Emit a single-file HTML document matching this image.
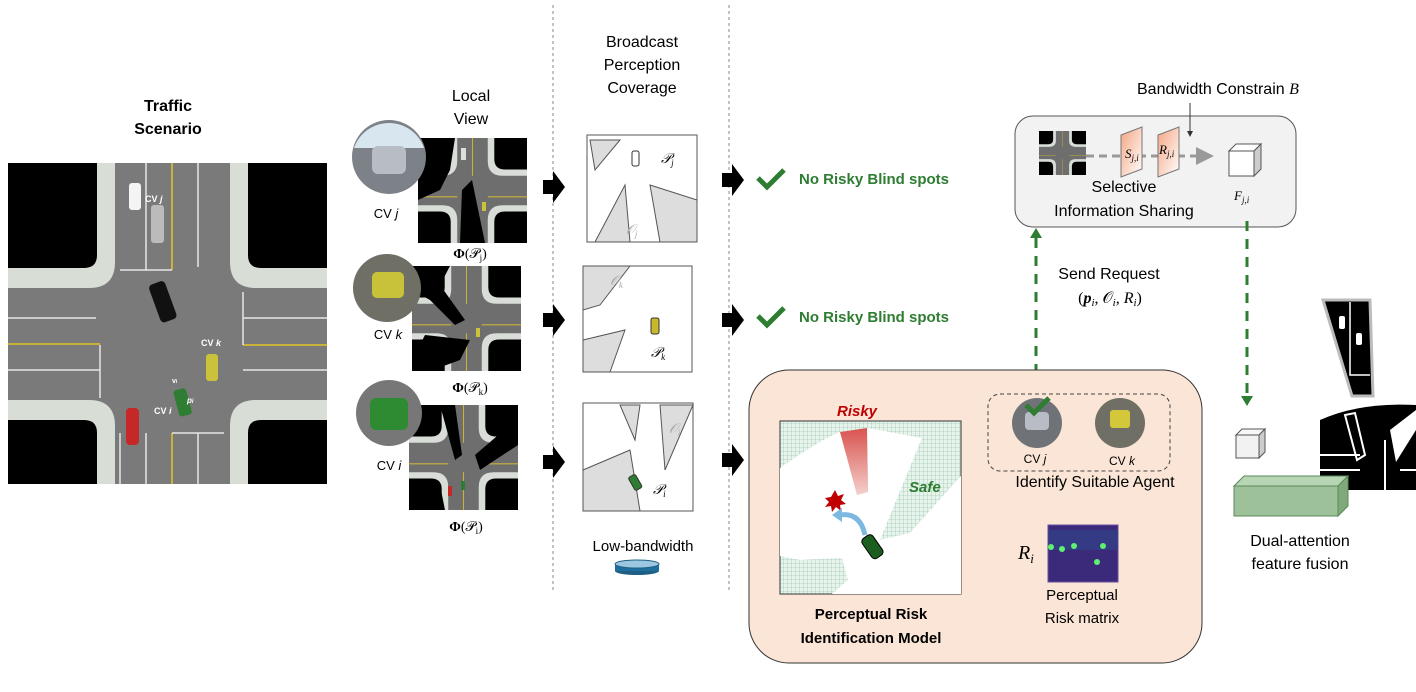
<!DOCTYPE html>
<html><head><meta charset="utf-8"><style>
body{margin:0;background:#fff;}
svg{display:block;font-family:"Liberation Sans",sans-serif;}
</style></head><body>
<svg width="1416" height="692" viewBox="0 0 1416 692" xmlns="http://www.w3.org/2000/svg">
<defs>
<pattern id="grid" width="4" height="4" patternUnits="userSpaceOnUse"><rect width="4" height="4" fill="#e6f4ec"/><path d="M4 0V4M0 4H4" stroke="#8fb8a0" stroke-width="0.6"/></pattern>
<linearGradient id="red" x1="0" y1="0" x2="0" y2="1"><stop offset="0" stop-color="#d9534f"/><stop offset="1" stop-color="#f4d0cc"/></linearGradient>
<linearGradient id="org" x1="0" y1="0" x2="1" y2="1"><stop offset="0" stop-color="#f4a582"/><stop offset="1" stop-color="#fff"/></linearGradient>
<marker id="agr" markerWidth="6" markerHeight="6" refX="3" refY="3" orient="auto"><path d="M0,0L6,3L0,6z" fill="#999"/></marker>
<g id="mini">
<rect width="100" height="100" fill="#6e6e6e"/>
<g fill="#d8ddd8">
<path d="M0 0H36V22Q36 36 22 36H0Z"/><path d="M100 0H64V22Q64 36 78 36H100Z"/>
<path d="M0 100H36V78Q36 64 22 64H0Z"/><path d="M100 100H64V78Q64 64 78 64H100Z"/>
</g>
<g fill="#000">
<path d="M0 0H30V20Q30 30 20 30H0Z"/><path d="M100 0H70V20Q70 30 80 30H100Z"/>
<path d="M0 100H30V80Q30 70 20 70H0Z"/><path d="M100 100H70V80Q70 70 80 70H100Z"/>
</g>
<g stroke="#c9b23a" stroke-width="1"><line x1="50" y1="0" x2="50" y2="36"/><line x1="50" y1="64" x2="50" y2="100"/><line x1="0" y1="56" x2="36" y2="56"/><line x1="64" y1="56" x2="100" y2="56"/></g>
</g>
</defs>

<!-- Traffic scenario -->
<text x="168" y="111" font-size="16" font-weight="bold" text-anchor="middle">Traffic</text>
<text x="168" y="134" font-size="16" font-weight="bold" text-anchor="middle">Scenario</text>
<rect x="8" y="163" width="319" height="321" fill="#7a7a7a"/>
<g fill="#d8ddd6">
<path d="M8 163H115V262Q115 288 89 288H8Z"/>
<path d="M327 163H230V262Q230 288 256 288H327Z"/>
<path d="M8 484H115V426Q115 400 89 400H8Z"/>
<path d="M327 484H230V426Q230 400 256 400H327Z"/>
</g>
<g fill="#000">
<path d="M8 163H97V255Q97 268 84 268H8Z"/>
<path d="M327 163H248V255Q248 268 261 268H327Z"/>
<path d="M8 484H97V433Q97 420 84 420H8Z"/>
<path d="M327 484H248V433Q248 420 261 420H327Z"/>
</g>
<g stroke="#c9b23a" stroke-width="2"><line x1="172" y1="163" x2="172" y2="270"/><line x1="172" y1="433" x2="172" y2="484"/><line x1="8" y1="344" x2="100" y2="344"/><line x1="243" y1="345" x2="327" y2="345"/></g>
<g stroke="#e6e6e6" stroke-width="1.5"><line x1="146" y1="163" x2="146" y2="270"/><line x1="198" y1="163" x2="198" y2="267"/><line x1="120" y1="270" x2="172" y2="270"/><line x1="8" y1="318" x2="96" y2="318"/><line x1="8" y1="370" x2="100" y2="370"/><line x1="100" y1="345" x2="100" y2="398"/><line x1="243" y1="292" x2="243" y2="345"/><line x1="243" y1="318" x2="327" y2="318"/><line x1="243" y1="370" x2="327" y2="370"/><line x1="172" y1="433" x2="224" y2="433"/><line x1="198" y1="433" x2="198" y2="484"/><line x1="146" y1="433" x2="146" y2="484"/><line x1="120" y1="433" x2="120" y2="484"/></g>
<rect x="129" y="183" width="12" height="27" rx="3" fill="#f4f4f4"/>
<rect x="151" y="205" width="13" height="38" rx="3" fill="#bbb"/>
<rect x="154" y="282" width="17" height="40" rx="4" fill="#111" transform="rotate(-20 162 301)"/>
<rect x="206" y="354" width="12" height="27" rx="3" fill="#c9c23a"/>
<rect x="176" y="389" width="13" height="27" rx="3" fill="#2e7d32" transform="rotate(-15 182 402)"/>
<rect x="126" y="408" width="13" height="37" rx="4" fill="#c62828"/>
<g fill="#fff" font-size="9" font-weight="bold"><text x="145" y="202">CV <tspan font-style="italic">j</tspan></text><text x="201" y="346">CV <tspan font-style="italic">k</tspan></text><text x="154" y="414">CV <tspan font-style="italic">i</tspan></text><text x="187" y="403" font-size="8" font-style="italic">p<tspan font-size="6">i</tspan></text><text x="172" y="383" font-size="7">v<tspan font-size="5">i</tspan></text></g>

<!-- Local view -->
<text x="471" y="101" font-size="16" text-anchor="middle">Local</text>
<text x="471" y="124" font-size="16" text-anchor="middle">View</text>
<g>
<use href="#mini" transform="translate(418 138) scale(1.09 1.05)"/>
<path d="M418 138H455L450 170L440 190L418 200Z M460 243L462 190L472 180L485 243Z M510 243L527 225V243Z" fill="#000"/>
<rect x="461" y="148" width="5" height="12" fill="#ddd"/><rect x="482" y="202" width="4" height="9" fill="#c9c23a"/>
<circle cx="389" cy="157" r="37" fill="#7d8288"/><path d="M354 148A37 37 0 0 1 424 148Z" fill="#d8e6f0"/><rect x="372" y="146" width="34" height="28" rx="6" fill="#b8bcc4"/>
<text x="386" y="218" font-size="13" text-anchor="middle">CV <tspan font-style="italic">j</tspan></text>
<text x="470" y="258" font-size="14" text-anchor="middle" font-family="Liberation Serif"><tspan font-weight="bold">Φ</tspan>(𝒫<tspan font-size="9" dy="3">j</tspan><tspan dy="-3">)</tspan></text>
</g>
<g>
<use href="#mini" transform="translate(412 266) scale(1.09 1.05)"/>
<path d="M412 266H450L440 285L465 320L455 325L430 300L412 290Z M412 371L412 360L425 335L470 340L460 360L430 371Z" fill="#000"/>
<rect x="476" y="328" width="4" height="9" fill="#c9c23a"/>
<circle cx="387" cy="288" r="34" fill="#6f6f66"/><rect x="372" y="272" width="32" height="26" rx="5" fill="#c8c23a"/>
<text x="388" y="339" font-size="13" text-anchor="middle">CV <tspan font-style="italic">k</tspan></text>
<text x="470" y="392" font-size="14" text-anchor="middle" font-family="Liberation Serif"><tspan font-weight="bold">Φ</tspan>(𝒫<tspan font-size="9" dy="3">k</tspan><tspan dy="-3">)</tspan></text>
</g>
<g>
<use href="#mini" transform="translate(409 405) scale(1.09 1.05)"/>
<path d="M440 405H455L462 455L455 460Z M518 418V445L480 470L475 455Z M409 495L440 485L445 510H409Z" fill="#000"/>
<rect x="448" y="486" width="4" height="10" fill="#c62828"/><rect x="461" y="481" width="4" height="9" fill="#2e7d32"/>
<circle cx="389" cy="413" r="33" fill="#777"/><rect x="370" y="398" width="38" height="32" rx="6" fill="#2e8b32"/>
<text x="389" y="470" font-size="13" text-anchor="middle">CV <tspan font-style="italic">i</tspan></text>
<text x="466" y="531" font-size="14" text-anchor="middle" font-family="Liberation Serif"><tspan font-weight="bold">Φ</tspan>(𝒫<tspan font-size="9" dy="3">i</tspan><tspan dy="-3">)</tspan></text>
</g>

<!-- dashed separators -->
<line x1="553" y1="5" x2="553" y2="592" stroke="#888" stroke-dasharray="3,3"/>
<line x1="729" y1="5" x2="729" y2="592" stroke="#888" stroke-dasharray="3,3"/>

<!-- arrows -->
<g fill="#000">
<path d="M543 180h10v-9l12 16l-12 16v-9h-10z"/>
<path d="M543 313h10v-9l12 16l-12 16v-9h-10z"/>
<path d="M543 455h10v-9l12 16l-12 16v-9h-10z"/>
<path d="M722 173h10v-9l12 16l-12 16v-9h-10z"/>
<path d="M722 313h10v-9l12 16l-12 16v-9h-10z"/>
<path d="M722 453h10v-9l12 16l-12 16v-9h-10z"/>
<path d="M980 548h8v-9l11 14l-11 14v-9h-8z"/>
<path d="M1030 512v-8h-9l14-11l14 11h-9v8z"/>
</g>

<!-- Broadcast coverage -->
<text x="642" y="47" font-size="16" text-anchor="middle">Broadcast</text>
<text x="642" y="70" font-size="16" text-anchor="middle">Perception</text>
<text x="642" y="93" font-size="16" text-anchor="middle">Coverage</text>
<g stroke="#555" stroke-width="1">
<rect x="587" y="135" width="110" height="107" fill="#fff"/>
<path d="M590 140H620L595 170Z M595 242L625 185L630 242Z M660 242L650 185L697 200V242Z" fill="#ddd"/>
<rect x="583" y="266" width="109" height="106" fill="#fff"/>
<path d="M583 266H630L600 305L583 310Z M583 340L625 330L610 372H583Z" fill="#ddd"/>
<rect x="583" y="403" width="110" height="108" fill="#fff"/>
<path d="M583 470L630 450L640 511H583Z M620 405L640 405L635 440Z M660 405L693 405L665 470Z" fill="#ddd"/>
</g>
<rect x="632" y="151" width="7" height="15" rx="2" fill="#fff" stroke="#333"/>
<rect x="651" y="318" width="8" height="16" rx="2" fill="#c9b82a" stroke="#333"/>
<rect x="631" y="475" width="8" height="15" rx="2" fill="#2e7d32" stroke="#333" transform="rotate(-30 635 482)"/>
<g font-family="Liberation Serif" font-style="italic" font-size="14">
<text x="661" y="163">𝒫<tspan font-size="9" dy="3">j</tspan></text><text x="626" y="234" fill="#aaa">𝒪<tspan font-size="9" dy="3">j</tspan></text>
<text x="610" y="285" fill="#aaa">𝒪<tspan font-size="9" dy="3">k</tspan></text><text x="651" y="357">𝒫<tspan font-size="9" dy="3">k</tspan></text>
<text x="669" y="433" fill="#aaa">𝒪<tspan font-size="9" dy="3">i</tspan></text><text x="653" y="494">𝒫<tspan font-size="9" dy="3">i</tspan></text>
</g>
<text x="643" y="551" font-size="15" text-anchor="middle">Low-bandwidth</text>
<ellipse cx="637" cy="571" rx="22" ry="4" fill="#1f5f86"/><rect x="615" y="564" width="44" height="7" fill="#1f6f9e"/><ellipse cx="637" cy="564" rx="22" ry="4" fill="#9cc7e0" stroke="#1f5f86"/>

<!-- No risky -->
<g stroke="#2e7d32" stroke-width="5" fill="none"><path d="M758 178l9 9l17-17"/><path d="M758 316l9 9l17-17"/></g>
<text x="799" y="184" font-size="15" font-weight="bold" fill="#2e7d32">No Risky Blind spots</text>
<text x="799" y="322" font-size="15" font-weight="bold" fill="#2e7d32">No Risky Blind spots</text>

<!-- top right box -->
<text x="1137" y="94" font-size="16">Bandwidth Constrain <tspan font-family="Liberation Serif" font-style="italic">B</tspan></text>
<rect x="1015" y="116" width="281" height="111" rx="18" fill="#f2f2f2" stroke="#555"/>
<line x1="1190" y1="103" x2="1190" y2="136" stroke="#333"/><path d="M1187 131l3 6l3-6z" fill="#333"/>
<use href="#mini" transform="translate(1039 131) scale(0.47 0.44)"/>
<line x1="1086" y1="156" x2="1205" y2="156" stroke="#999" stroke-width="3" stroke-dasharray="8,5" marker-end="url(#agr)"/>
<path d="M1121 135l21-8v42l-21 8z" fill="url(#org)" stroke="#777"/>
<path d="M1158 135l21-8v42l-21 8z" fill="url(#org)" stroke="#777"/>
<text x="1125" y="158" font-family="Liberation Serif" font-style="italic" font-size="13">S<tspan font-size="9" dy="3">j,i</tspan></text>
<text x="1159" y="154" font-family="Liberation Serif" font-style="italic" font-size="13">R<tspan font-size="9" dy="3">j,i</tspan></text>
<path d="M1229 151h25v25h-25z" fill="#fff" stroke="#555"/><path d="M1229 151l7-7h25l-7 7z" fill="#fff" stroke="#555"/><path d="M1254 151l7-7v25l-7 7z" fill="#ccc" stroke="#555"/>
<text x="1234" y="200" font-family="Liberation Serif" font-style="italic" font-size="13">F<tspan font-size="9" dy="3">j,i</tspan></text>
<text x="1124" y="192" font-size="16" text-anchor="middle">Selective</text>
<text x="1124" y="216" font-size="16" text-anchor="middle">Information Sharing</text>

<!-- green dashed -->
<line x1="1036" y1="392" x2="1036" y2="236" stroke="#2e7d32" stroke-width="3" stroke-dasharray="10,8"/>
<path d="M1030 238l6-10l6 10z" fill="#2e7d32"/>
<line x1="1247" y1="221" x2="1247" y2="400" stroke="#2e7d32" stroke-width="3" stroke-dasharray="10,8"/>
<path d="M1241 396l6 10l6-10z" fill="#2e7d32"/>
<text x="1109" y="279" font-size="16" text-anchor="middle">Send Request</text>
<text x="1110" y="303" font-size="16" text-anchor="middle" font-family="Liberation Serif">(<tspan font-weight="bold" font-style="italic">p</tspan><tspan font-size="11" font-style="italic" dy="3">i</tspan><tspan dy="-3">, 𝒪</tspan><tspan font-size="11" font-style="italic" dy="3">i</tspan><tspan dy="-3">, </tspan><tspan font-style="italic">R</tspan><tspan font-size="11" font-style="italic" dy="3">i</tspan><tspan dy="-3">)</tspan></text>

<!-- pink box -->
<rect x="749" y="370" width="453" height="293" rx="40" fill="#fbe5d6" stroke="#333"/>
<rect x="780" y="421" width="181" height="173" fill="url(#grid)" stroke="#333"/>
<path d="M780 468Q820 440 840 432L857 495L868 492L867 428L922 438L880 540L910 533L961 476V594H832L848 580L842 558L800 560L780 556Z" fill="#fff"/>
<path d="M840 432L867 428L868 492L857 495Z" fill="url(#red)"/>
<text x="837" y="416" font-size="15" font-weight="bold" font-style="italic" fill="#c00000">Risky</text>
<text x="909" y="492" font-size="15" font-weight="bold" font-style="italic" fill="#2e7d32">Safe</text>
<path d="M835 490l3 6l6-2l-3 6l5 4l-6 1l1 6l-5-4l-4 5l-1-6l-6 1l4-5l-4-4l6-1z" fill="#c00000"/>
<path d="M865 535Q860 512 840 515" stroke="#7db8e0" stroke-width="5" fill="none"/><path d="M832 515l10-7v14z" fill="#7db8e0"/>
<rect x="866" y="535" width="13" height="24" rx="4" fill="#1b5e20" stroke="#000" transform="rotate(-35 872 547)"/>
<text x="871" y="619" font-size="15" font-weight="bold" text-anchor="middle">Perceptual Risk</text>
<text x="871" y="643" font-size="15" font-weight="bold" text-anchor="middle">Identification Model</text>
<text x="1018" y="559" font-family="Liberation Serif" font-style="italic" font-size="20">R<tspan font-size="13" dy="4">i</tspan></text>
<rect x="1048" y="525" width="70" height="57" fill="#3b2a7a" stroke="#6a4fa0"/>
<rect x="1048" y="530" width="70" height="20" fill="#30468a" opacity="0.6"/>
<g fill="#5ef070"><circle cx="1051" cy="547" r="3"/><circle cx="1062" cy="549" r="3"/><circle cx="1074" cy="546" r="3"/><circle cx="1103" cy="546" r="3"/><circle cx="1097" cy="562" r="3"/></g>
<text x="1082" y="600" font-size="15" text-anchor="middle">Perceptual</text>
<text x="1082" y="623" font-size="15" text-anchor="middle">Risk matrix</text>
<rect x="988" y="394" width="182" height="77" rx="12" fill="none" stroke="#444" stroke-dasharray="4,3"/>
<circle cx="1037" cy="423" r="25" fill="#6f7378"/><rect x="1025" y="412" width="24" height="18" rx="4" fill="#b8bcc4"/>
<circle cx="1120" cy="423" r="25" fill="#6f6f66"/><rect x="1110" y="410" width="20" height="18" rx="3" fill="#d4c83a"/>
<path d="M1026 405l8 8l15-15" stroke="#2e7d32" stroke-width="5" fill="none"/>
<text x="1035" y="463" font-size="12" text-anchor="middle">CV <tspan font-style="italic">j</tspan></text>
<text x="1122" y="465" font-size="12" text-anchor="middle">CV <tspan font-style="italic">k</tspan></text>
<text x="1095" y="487" font-size="16" text-anchor="middle">Identify Suitable Agent</text>

<!-- fusion -->
<path d="M1323 300H1370L1373 396L1352 396Z" fill="#000" stroke="#bbb" stroke-width="3"/>
<path d="M1350 302V375H1370" stroke="#fff" stroke-width="1.5" fill="none"/>
<rect x="1339" y="316" width="6" height="13" rx="2" fill="#fff"/><rect x="1356" y="333" width="6" height="12" rx="2" fill="#fff"/>
<path d="M1320 490V420Q1360 402 1416 405V490Z" fill="#000"/>
<path d="M1320 455h40M1320 470h40M1385 440V490M1400 470h16M1345 415l12 45l8-5l-10-42z" stroke="#fff" stroke-width="2" fill="none"/>
<path d="M1390 430l26-20v20l-20 32z" fill="#fff"/>
<path d="M1236 435h23v23h-23z" fill="#f2f2f2" stroke="#555"/><path d="M1236 435l6-6h23l-6 6z" fill="#f8f8f8" stroke="#555"/><path d="M1259 435l6-6v23l-6 6z" fill="#ccc" stroke="#555"/>
<path d="M1234 486h104v30h-104z" fill="#9dc29a" stroke="#5a8a5a"/><path d="M1234 486l10-10h104l-10 10z" fill="#b9d6b4" stroke="#5a8a5a"/><path d="M1338 486l10-10v30l-10 10z" fill="#7fa87b" stroke="#5a8a5a"/>
<text x="1300" y="546" font-size="16" text-anchor="middle">Dual-attention</text>
<text x="1300" y="569" font-size="16" text-anchor="middle">feature fusion</text>
</svg>
</body></html>
